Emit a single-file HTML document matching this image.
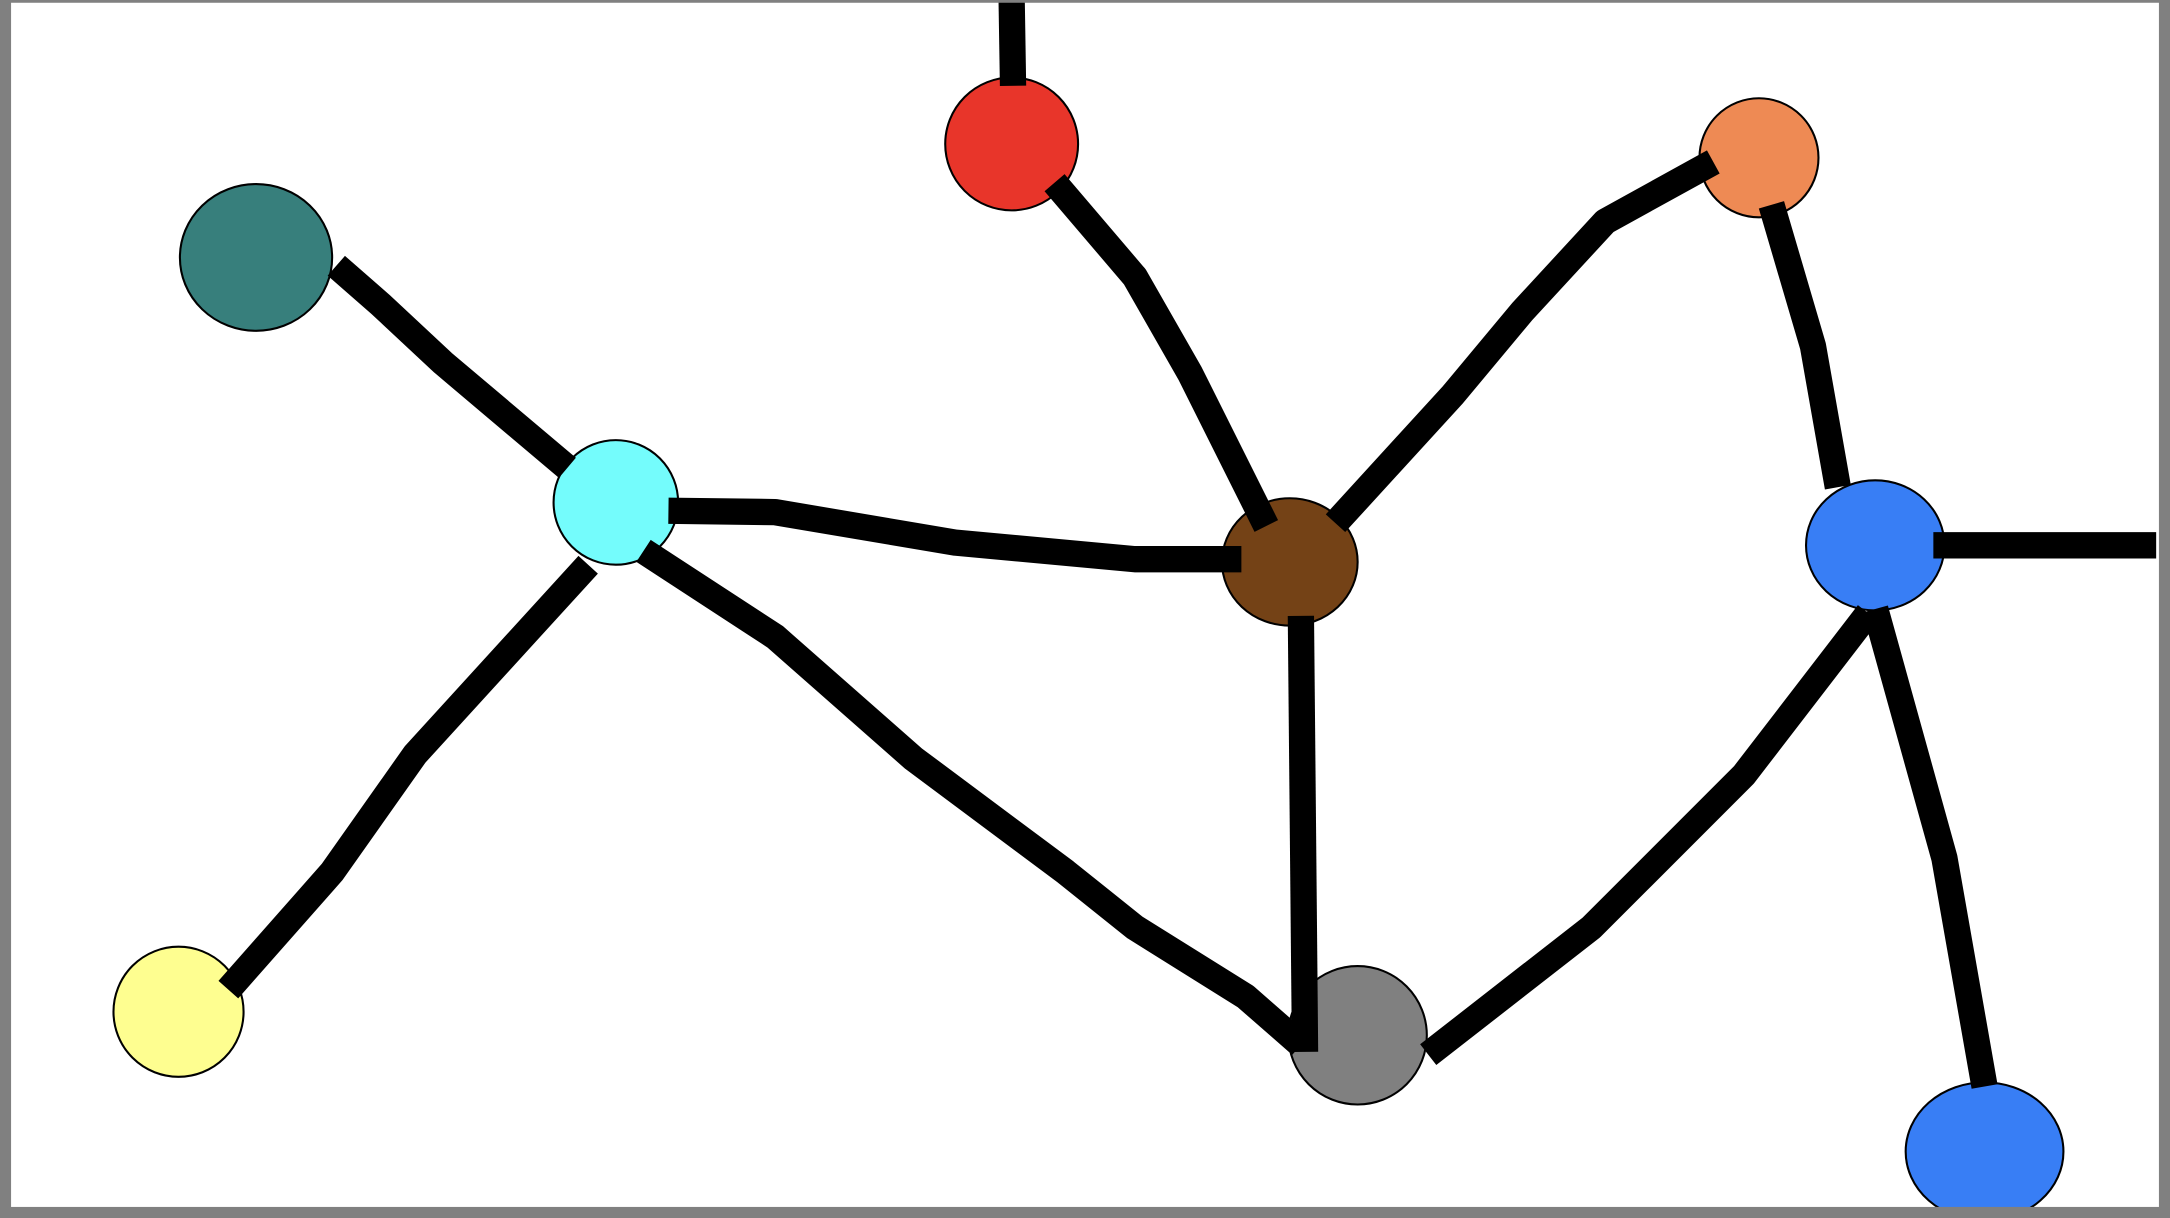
<!DOCTYPE html>
<html><head><meta charset="utf-8"><style>html,body{margin:0;padding:0;background:#fff;width:2170px;height:1218px;overflow:hidden}svg{display:block}</style></head>
<body>
<svg width="2170" height="1218" viewBox="0 0 1568 880" preserveAspectRatio="none" xmlns="http://www.w3.org/2000/svg">
<rect x="0" y="0" width="1568" height="880" fill="#fff"/>
<g stroke="#000" stroke-width="1.5">
<ellipse cx="185" cy="186" rx="55" ry="53" fill="#377F7C"/>
<ellipse cx="731" cy="104" rx="48" ry="48" fill="#E8352A"/>
<ellipse cx="1271" cy="114" rx="43" ry="43" fill="#EE8A54"/>
<ellipse cx="445" cy="363" rx="45" ry="45" fill="#74FCFC"/>
<ellipse cx="932" cy="406" rx="49" ry="46" fill="#744216"/>
<ellipse cx="1355" cy="394" rx="50" ry="47" fill="#387EF5"/>
<ellipse cx="129" cy="731" rx="47" ry="47" fill="#FEFE90"/>
<ellipse cx="981" cy="748" rx="50" ry="50" fill="#808080"/>
<ellipse cx="1434" cy="832" rx="57" ry="50" fill="#387EF5"/>
</g>
<g stroke="#000" stroke-width="19" fill="none" stroke-linejoin="round">
<polyline points="731,0 732,62"/>
<polyline points="243,192 275,220 320,262 410,338"/>
<polyline points="762,132 820,200 860,270 915,380"/>
<polyline points="965,378 1050,285 1100,225 1160,160 1238,117"/>
<polyline points="1280,148 1310,250 1328,352"/>
<polyline points="1397,394 1558,394"/>
<polyline points="483,369 560,370 690,392 820,404 897,404"/>
<polyline points="425,408 300,545 240,630 165,715"/>
<polyline points="465,398 560,460 660,548 770,630 820,670 900,720 940,755"/>
<polyline points="940,445 943,760"/>
<polyline points="1032,762 1150,670 1260,560 1350,443"/>
<polyline points="1355,440 1405,620 1434,785"/>
</g>
<g fill="#808080">
<rect x="0" y="0" width="8" height="880"/>
<rect x="0" y="0" width="1568" height="2"/>
<rect x="1560" y="0" width="8" height="880"/>
<rect x="0" y="872" width="1568" height="8"/>
</g>
</svg>
</body></html>
